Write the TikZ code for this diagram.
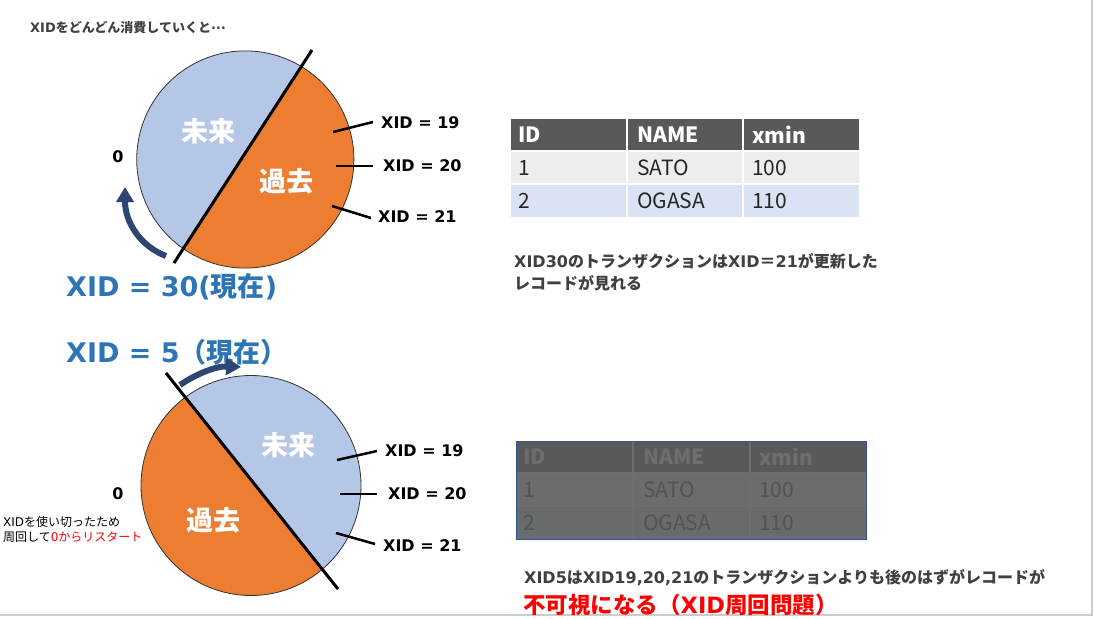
\documentclass[tikz,border=0pt]{standalone}
\usepackage{fontspec}
\setmainfont{DejaVu Sans}
\newfontfamily\cjk{Noto Sans CJK JP}
\usetikzlibrary{arrows.meta}
\definecolor{pastblue}{HTML}{B4C7E7}
\definecolor{pastor}{HTML}{ED7D31}
\definecolor{navy}{HTML}{2E4672}
\definecolor{xblue}{HTML}{2E75B6}
\definecolor{txtgray}{HTML}{404040}
\definecolor{hdr}{HTML}{595959}
\definecolor{rowa}{HTML}{EDEDED}
\definecolor{rowb}{HTML}{DAE3F3}
\definecolor{framegray}{HTML}{CCCCCC}
\definecolor{tblborder}{HTML}{2F5597}
\definecolor{celltxt}{HTML}{262626}
\newcommand\J[1]{{\cjk #1}}
\newcommand\fs[1]{\fontsize{#1}{#1}\selectfont}
\newcommand\xtbl[2]{%
  \fill[hdr] (0,0) rectangle (348,32);
  \fill[rowa] (0,32) rectangle (348,65);
  \fill[rowb] (0,65) rectangle (348,98);
  \draw[white, line width=1.5pt] (0,32)--(348,32) (0,65)--(348,65) (116,0)--(116,98) (232,0)--(232,98);
  \node[th] (#1h1) at (7,16) {ID};
  \node[th] (#1h2) at (126,16) {NAME};
  \node[th] (#1h3) at (241,16) {xmin};
  \node[td] (#1a1) at (7,49) {1};
  \node[td] (#1a2) at (126,49) {SATO};
  \node[td] (#1a3) at (241,49) {100};
  \node[td] (#1b1) at (7,82) {2};
  \node[td] (#1b2) at (126,82) {OGASA};
  \node[td] (#1b3) at (241,82) {110};
}
\begin{document}
\begin{tikzpicture}[x=1pt,y=-1pt,
  lbl/.style={font=\bfseries\fs{16}, inner sep=0, anchor=west},
  zero/.style={font=\bfseries\fs{16}, inner sep=0},
  half/.style={font=\cjk\bfseries\fs{27}, text=white, inner sep=0},
  big/.style={font=\bfseries\fs{27}, text=xblue, inner sep=0, anchor=west},
  para/.style={font=\bfseries\fs{16}, text=txtgray, inner sep=0, anchor=west},
  note/.style={font=\fs{12}, inner sep=0, anchor=west},
  tickline/.style={line width=2.5pt},
  divider/.style={line width=3pt},
  rim/.style={draw=black!80, line width=0.8pt},
  curarrow/.style={draw=navy, line width=6pt, -{Triangle[width=17pt,length=15pt]}},
  th/.style={font=\cjk\bfseries\fs{21}, text=white, inner sep=0, anchor=west},
  td/.style={font=\cjk\fs{21}, text=celltxt, inner sep=0, anchor=west}]
\useasboundingbox (0,0) rectangle (1094,618);
\fill[white] (0,0) rectangle (1094,618);
% frame
\coordinate (f1) at (1092,0);
\coordinate (f2) at (1092,615);
\coordinate (f3) at (0,615);
\draw[framegray, line width=2pt] (f1) -- (f2) -- (f3);

% title
\node[font=\bfseries\fs{13}, text=txtgray, inner sep=0, anchor=west] (title) at (30,28) {XID\J{をどんどん消費していくと}\raisebox{0.5ex}{\J{…}}};

% ---- top circle
\coordinate (c1) at (245.3,159.5);
\fill[pastblue] (c1) ++(125.2:108.6) arc[start angle=125.2, end angle=301.5, radius=108.6] -- cycle;
\fill[pastor] (c1) ++(-58.5:108.6) arc[start angle=-58.5, end angle=125.2, radius=108.6] -- cycle;
\draw[rim] (c1) circle[radius=108.6];
\coordinate (d1a) at (312,50);
\coordinate (d1b) at (174,263);
\draw[divider] (d1a) -- (d1b);
\node[half] (fut1) at (208,131) {未来};
\node[half] (past1) at (286,181) {過去};
\node[zero] (zero1) at (118,157) {0};
\coordinate (a1s) at (166,256);
\coordinate (a1e) at (125,187);
\draw[curarrow] (a1s) .. controls (140,246) and (125,222) .. (a1e);
\node[big] (now1) at (66,287) {XID = 30(\J{現在})};
% ticks + labels
\node[lbl] (l19) at (381,123) {XID = 19};
\node[lbl] (l20) at (383,166) {XID = 20};
\node[lbl] (l21) at (378,217) {XID = 21};
\coordinate (t1a) at (333,132); \coordinate (t1b) at (373,122);
\coordinate (t2a) at (336,166); \coordinate (t2b) at (373,166);
\coordinate (t3a) at (332,206); \coordinate (t3b) at (371,218);
\draw[tickline] (t1a) -- (t1b);
\draw[tickline] (t2a) -- (t2b);
\draw[tickline] (t3a) -- (t3b);

% top table
\begin{scope}[shift={(511,119)}]
\xtbl{ta}{}
\end{scope}
\node[para] (p1) at (514,261) {XID30\J{のトランザクションは}XID\J{＝}21\J{が更新した}};
\node[para] (p2) at (514,283) {\J{レコードが見れる}};

% ---- bottom circle
\node[big] (now2) at (66,352) {XID = 5\J{（現在）}};
\coordinate (c2) at (251,485.5);
\fill[pastblue] (c2) ++(232.7:110) arc[start angle=232.7, end angle=409.3, radius=110] -- cycle;
\fill[pastor] (c2) ++(49.3:110) arc[start angle=49.3, end angle=232.7, radius=110] -- cycle;
\draw[rim] (c2) circle[radius=110];
\coordinate (d2a) at (166,373);
\coordinate (d2b) at (338,589);
\draw[divider] (d2a) -- (d2b);
\node[half] (fut2) at (288,445) {未来};
\node[half] (past2) at (213,520) {過去};
\node[zero] (zero2) at (118,494) {0};
\coordinate (a2s) at (180,385);
\coordinate (a2e) at (241,367);
\draw[curarrow] (a2s) .. controls (196,374) and (216,366) .. (a2e);
\node[note] (n1) at (3,522) {XID\J{を使い切ったため}};
\node[note] (n2) at (3,537) {\J{周回して}\textcolor{red}{0\J{からリスタート}}};
\node[lbl] (m19) at (385,451) {XID = 19};
\node[lbl] (m20) at (388,494) {XID = 20};
\node[lbl] (m21) at (383,546) {XID = 21};
\coordinate (s1a) at (337,460); \coordinate (s1b) at (377,451);
\coordinate (s2a) at (340,494); \coordinate (s2b) at (377,494);
\coordinate (s3a) at (336,533); \coordinate (s3b) at (375,544);
\draw[tickline] (s1a) -- (s1b);
\draw[tickline] (s2a) -- (s2b);
\draw[tickline] (s3a) -- (s3b);

% bottom table (greyed)
\begin{scope}[shift={(516,441)}, x=1.008pt]
\xtbl{tb}{}
\fill[hdr, fill opacity=0.87] (0,0) rectangle (348,98);
\draw[tblborder, line width=1pt] (0,0) rectangle (348,98);
\end{scope}
\node[para] (p3) at (524,578) {XID5\J{は}XID19,20,21\J{のトランザクションよりも後のはずがレコードが}};
\node[font=\bfseries\fs{22.5}, text=red, inner sep=0, anchor=west] (p4) at (523,605) {\J{不可視になる（}XID\J{周回問題）}};
\end{tikzpicture}
\end{document}
